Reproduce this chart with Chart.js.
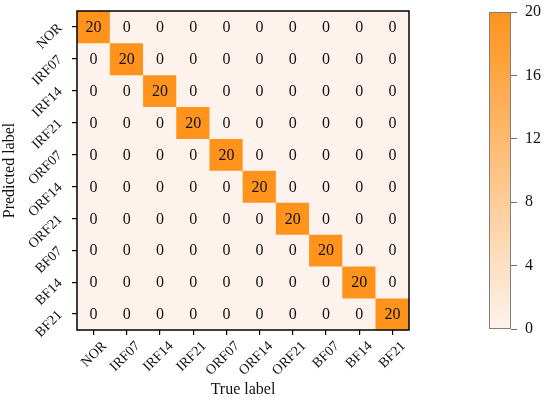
<!DOCTYPE html>
<html>
<head>
<meta charset="utf-8">
<script src="https://cdn.jsdelivr.net/npm/chart.js@4/dist/chart.umd.min.js"></script>
<style>
  html, body { margin: 0; padding: 0; background: #fff; }
  #wrap { position: relative; width: 550px; height: 402px; }
  #main { position: absolute; left: 0; top: 0; }
  #cbar { position: absolute; left: 470px; top: 0; }
</style>
</head>
<body>
<div id="wrap">
  <canvas id="main" width="550" height="402"></canvas>
  <canvas id="cbar" width="80" height="402"></canvas>
</div>
<script>
// ---- data ----
const trueLabels = ['NOR','IRF07','IRF14','IRF21','ORF07','ORF14','ORF21','BF07','BF14','BF21'];
const predLabels = ['NOR','IRF07','IRF14','IRF21','ORF07','ORF14','ORF21','BF07','BF14','BF21'];
// counts[row = predicted][col = true]
const counts = [
  [20,0,0,0,0,0,0,0,0,0],
  [0,20,0,0,0,0,0,0,0,0],
  [0,0,20,0,0,0,0,0,0,0],
  [0,0,0,20,0,0,0,0,0,0],
  [0,0,0,0,20,0,0,0,0,0],
  [0,0,0,0,0,20,0,0,0,0],
  [0,0,0,0,0,0,20,0,0,0],
  [0,0,0,0,0,0,0,20,0,0],
  [0,0,0,0,0,0,0,0,20,0],
  [0,0,0,0,0,0,0,0,0,20]
];
const colorMin = 0;
const colorMax = 20;
const colorTicks = [0, 4, 8, 12, 16, 20];

// ---- style ----
const FONT = '"Liberation Serif", "Times New Roman", serif';
const lowRGB = [254, 243, 236];
const highRGB = [255, 147, 28];
function cmap(v) {
  const t = Math.max(0, Math.min(1, (v - colorMin) / (colorMax - colorMin)));
  const c = lowRGB.map((a, i) => Math.round(a + (highRGB[i] - a) * t));
  return `rgb(${c[0]},${c[1]},${c[2]})`;
}

const datasets = predLabels.map((p, r) => ({
  label: p,
  data: trueLabels.map(() => [r, r + 1]),
  backgroundColor: trueLabels.map((_, c) => cmap(counts[r][c])),
  borderWidth: 0,
  grouped: false,
  barPercentage: 1.0,
  categoryPercentage: 1.0
}));

function noEdgePad(s) { s.paddingTop = 0; s.paddingBottom = 0; s.paddingLeft = 0; s.paddingRight = 0; }

const cellText = {
  id: 'cellText',
  afterDatasetsDraw(chart) {
    const ctx = chart.ctx;
    ctx.save();
    ctx.font = '16px ' + FONT;
    ctx.fillStyle = '#111';
    ctx.textAlign = 'center';
    ctx.textBaseline = 'middle';
    chart.data.datasets.forEach((ds, r) => {
      const meta = chart.getDatasetMeta(r);
      meta.data.forEach((el, c) => {
        const pt = el.getCenterPoint();
        ctx.fillText(String(counts[r][c]), pt.x, pt.y + 1);
      });
    });
    ctx.restore();
  }
};
const frame = {
  id: 'frame',
  afterDraw(chart) {
    const a = chart.chartArea;
    const ctx = chart.ctx;
    ctx.save();
    ctx.strokeStyle = '#000';
    ctx.lineWidth = 1.5;
    ctx.strokeRect(a.left, a.top, a.right - a.left, a.bottom - a.top);
    ctx.restore();
  }
};

new Chart(document.getElementById('main'), {
  type: 'bar',
  data: { labels: trueLabels, datasets },
  options: {
    responsive: false,
    animation: false,
    layout: { padding: { left: 0, top: 11, right: 141, bottom: 0 } },
    plugins: { legend: { display: false }, tooltip: { enabled: false } },
    scales: {
      x: {
        type: 'category',
        offset: true,
        afterFit(s) { s.height = 72; noEdgePad(s); },
        grid: { display: true, drawOnChartArea: false, drawTicks: true, tickLength: 5, color: '#000', lineWidth: 1.2, offset: false },
        border: { display: false },
        ticks: { color: '#111', font: { family: FONT, size: 14 }, minRotation: 45, maxRotation: 45, padding: 3, labelOffset: 11, autoSkip: false },
        title: { display: true, text: 'True label', color: '#111', font: { family: FONT, size: 16 }, padding: { top: 0, bottom: 3 } }
      },
      y: {
        type: 'linear',
        reverse: true,
        min: 0,
        max: 10,
        afterFit(s) { s.width = 77; noEdgePad(s); },
        afterBuildTicks(s) { s.ticks = predLabels.map((_, i) => ({ value: i + 0.5 })); },
        grid: { display: true, drawOnChartArea: false, drawTicks: true, tickLength: 5, color: '#000', lineWidth: 1.2 },
        border: { display: false },
        ticks: {
          color: '#111', font: { family: FONT, size: 14 }, minRotation: 45, maxRotation: 45, padding: 12, labelOffset: -1, autoSkip: false,
          callback(v, i) { return predLabels[i]; }
        },
        title: { display: true, text: 'Predicted label', color: '#111', font: { family: FONT, size: 16 }, padding: { top: 0, bottom: 0 } }
      }
    }
  },
  plugins: [cellText, frame]
});

// ---- colorbar ----
const cbFrame = {
  id: 'cbFrame',
  afterDraw(chart) {
    const a = chart.chartArea;
    const ctx = chart.ctx;
    ctx.save();
    ctx.strokeStyle = '#808080';
    ctx.lineWidth = 1;
    ctx.strokeRect(a.left + 0.5, a.top + 0.5, a.right - a.left - 1, a.bottom - a.top - 1);
    ctx.restore();
  }
};
new Chart(document.getElementById('cbar'), {
  type: 'bar',
  data: {
    labels: ['scale'],
    datasets: [{
      data: [[colorMin, colorMax]],
      borderWidth: 0,
      barPercentage: 1.0,
      categoryPercentage: 1.0,
      backgroundColor(ctx) {
        const chart = ctx.chart;
        const ys = chart.scales && chart.scales.y;
        if (!ys || !chart.chartArea) return cmap(colorMax);
        const y0 = ys.getPixelForValue(colorMin);
        const y1 = ys.getPixelForValue(colorMax);
        if (!isFinite(y0) || !isFinite(y1) || y0 === y1) return cmap(colorMax);
        const g = chart.ctx.createLinearGradient(0, y0, 0, y1);
        [0, 0.25, 0.5, 0.75, 1].forEach(t => g.addColorStop(t, cmap(colorMin + t * (colorMax - colorMin))));
        return g;
      }
    }]
  },
  options: {
    responsive: false,
    animation: false,
    layout: { padding: { left: 19, top: 12, right: 0, bottom: 73 } },
    plugins: { legend: { display: false }, tooltip: { enabled: false } },
    scales: {
      x: { display: false },
      y: {
        position: 'right',
        min: colorMin,
        max: colorMax,
        afterFit(s) { s.width = 39; noEdgePad(s); },
        afterBuildTicks(s) { s.ticks = colorTicks.map(v => ({ value: v })); },
        grid: { display: true, drawOnChartArea: false, drawTicks: true, tickLength: 6, color: '#707070', lineWidth: 1 },
        border: { display: false },
        ticks: { color: '#111', font: { family: FONT, size: 16 }, padding: 8 }
      }
    }
  },
  plugins: [cbFrame]
});
</script>
</body>
</html>
